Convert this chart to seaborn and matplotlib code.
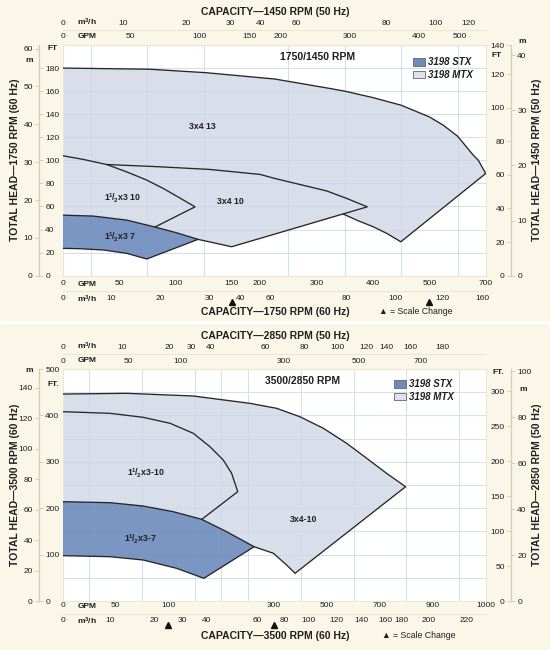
import numpy as np
import pandas as pd
import matplotlib
matplotlib.use("Agg")
import matplotlib.pyplot as plt
import matplotlib.transforms as mtransforms
import seaborn as sns
from matplotlib.patches import Patch
from matplotlib.lines import Line2D
from matplotlib.ticker import FixedLocator

# ------------------------------------------------------------------
# DATA  (upper chart: 1750 RPM capacity in GPM, head in FT)
# ------------------------------------------------------------------
T13_TOP_GPM = [0, 77, 127, 226, 324, 350, 400, 450, 500, 550, 600, 656, 674, 700]
T13_TOP_FT = [180, 179, 176, 170.5, 162.3, 160, 154.4, 147.8, 137.7, 130.4, 121, 104.5, 100, 88.6]
T13_LOW_GPM = [449.5, 424.5, 400.6, 374, 347.5]
T13_LOW_FT = [29.4, 36.7, 42.4, 47.6, 53.4]
T10_TOP_GPM = [39, 86.3, 130.6, 200, 226, 318, 353.5, 390]
T10_TOP_FT = [96.4, 94.4, 92.1, 87.8, 84.3, 73.5, 67, 59.7]
T10_LOW_GPM = [390, 149.8, 120]
T10_LOW_FT = [59.7, 25.1, 31.5]
T1510_GPM = [0, 18.3, 39, 56.7, 74.5, 89, 101, 117.3, 81.8]
T1510_FT = [104, 100.8, 96.4, 90, 82.9, 75.7, 69, 59.7, 42.2]
T157_TOP_GPM = [0, 27, 56.7, 81.8, 101, 120]
T157_TOP_FT = [52.5, 51.7, 48.2, 42.2, 37.2, 31.5]
T157_LOW_GPM = [120, 74.5, 56.7, 36, 15.3, 0]
T157_LOW_FT = [31.5, 14.5, 19.4, 22.3, 23.4, 23.7]
T_LABELS = ["3x4 13", r"1$^{\mathbf{1}}\!$/$_{\mathbf{2}}$x3 10", "3x4 10",
            r"1$^{\mathbf{1}}\!$/$_{\mathbf{2}}$x3 7"]
T_LABEL_GPM = [124, 53, 149, 50.5]
T_LABEL_FT = [129, 67, 64, 33]
T_SCALE_BREAKS = [0, 150, 500, 700]
T_BREAK_MARKS = [150, 500]

# lower chart: 3500 RPM
B10_TOP_GPM = [0, 60.5, 147, 254, 309, 397, 486, 574, 650, 725, 797]
B10_TOP_FT = [446, 447.6, 441.8, 426, 415.3, 397.2, 372.2, 339.9, 307.5, 275.2, 246.3]
B10_LOW_GPM = [797, 379, 347, 298.5, 262]
B10_LOW_FT = [246.3, 59.7, 77.6, 102.8, 117]
B1510_GPM = [0, 44.7, 76, 103, 147, 178.5, 203.6, 219.5, 231, 163]
B1510_FT = [408, 404.5, 395.9, 383, 361.4, 332.5, 303.9, 275.2, 235.6, 176]
B157_TOP_GPM = [0, 44.7, 76, 109, 163, 210, 262]
B157_TOP_FT = [214, 211.9, 204.7, 192.5, 176, 149.4, 117]
B157_LOW_GPM = [262, 167, 115.5, 76, 44.7, 0]
B157_LOW_FT = [117, 48.9, 70.4, 88.4, 95.5, 97.7]
B_LABELS = [r"1$^{\mathbf{1}}\!$/$_{\mathbf{2}}$x3-10", r"1$^{\mathbf{1}}\!$/$_{\mathbf{2}}$x3-7", "3x4-10"]
B_LABEL_GPM = [79, 73, 410]
B_LABEL_FT = [275, 133, 176]
B_SCALE_BREAKS = [0, 100, 300, 900, 1000]
B_BREAK_MARKS = [100, 300]

# tick labels
T_GPM60 = [0, 50, 100, 150, 200, 300, 400, 500, 700]
T_M3H60 = ["0", "10", "20", "30", "40", "60", "80", "100", "120", "160"]
T_GPM50 = ["0", "50", "100", "150", "200", "300", "400", "500"]
T_M3H50 = ["0", "10", "20", "30", "40", "60", "80", "100", "120"]
B_GPM60 = [0, 50, 100, 300, 500, 700, 900, 1000]
B_M3H60 = ["0", "10", "20", "30", "40", "60", "80", "100", "120", "140", "160", "180", "200", "220"]
B_GPM50 = ["0", "50", "100", "300", "500", "700"]
B_M3H50 = ["0", "10", "20", "30", "40", "60", "80", "100", "120", "140", "160", "180"]

# ------------------------------------------------------------------
# layout (pixel positions of tick labels)
# ------------------------------------------------------------------
T_M3H60_X = [63, 111, 160, 209, 241, 270, 346, 395, 442, 482]
T_GPM50_X = [63, 130.5, 199, 249, 281, 350, 419, 460]
T_M3H50_X = [63, 123, 186, 230, 261, 296, 386, 435, 468]
B_M3H60_X = [63, 110.5, 154.4, 182.5, 207, 257, 284, 308, 336, 361, 385, 401, 429, 466.7]
B_GPM50_X = [63, 128.8, 180, 284, 358.6, 421]
B_M3H50_X = [63, 121.8, 169.5, 191, 210.5, 265.6, 304, 337.5, 366.7, 386, 410.5, 442]

BG = "#FAF7E8"
LIGHT = "#CFD7E7"
DARK = "#6E8BBD"
LINE = "#262626"
GRID = "#D6E0EA"
SPINE = "#D3CDB6"
ROWLINE = "#ECE7D4"
TXT = "#1e1e1e"

sns.set_theme(style="white")
plt.rcParams["font.family"] = ["Liberation Sans", "DejaVu Sans"]
plt.rcParams["mathtext.fontset"] = "custom"
plt.rcParams["mathtext.rm"] = "Liberation Sans:bold"
plt.rcParams["mathtext.bf"] = "Liberation Sans:bold"
plt.rcParams["mathtext.it"] = "Liberation Sans:italic"

W, H = 550, 650
fig = plt.figure(figsize=(5.5, 6.5), dpi=100, facecolor=BG)
PX2PT = 72 / 100
XL, XR = 62.7, 485.7


def fx(x):
    return x / W


def fy(y):
    return 1 - y / H


def make_scale(brk_gpm, brk_u):
    bg = np.asarray(brk_gpm, float)
    bu = np.asarray(brk_u, float)

    def fwd(g):
        return np.interp(np.asarray(g, float), bg, bu)

    def inv(u):
        return np.interp(np.asarray(u, float), bu, bg)
    return fwd, inv


def ftext(x, y, s, size=6, weight="normal", ha="center", va="center", **kw):
    fig.text(fx(x), fy(y), s, size=size, weight=weight, ha=ha, va=va, color=TXT, **kw)


def xrow(ax, fwd, inv, lims, side, spine_y, top, bot, pos, labels, pad_px, spine_vis=True):
    tw = ax.twiny()
    tw.set_xscale("function", functions=(fwd, inv))
    tw.set_xlim(lims)
    for s in tw.spines.values():
        s.set_visible(False)
    frac = (bot - spine_y) / (bot - top)
    tw.spines[side].set_visible(spine_vis)
    tw.spines[side].set_position(("axes", frac))
    tw.spines[side].set_color(ROWLINE)
    tw.spines[side].set_linewidth(0.8)
    tw.xaxis.set_ticks_position(side)
    tw.set_xticks(pos)
    tw.set_xticklabels(labels)
    tw.xaxis.set_minor_locator(FixedLocator([]))
    tw.tick_params(axis="x", which="both", length=0, pad=pad_px * PX2PT, labelsize=6, labelcolor=TXT)
    return tw


def yax(ax, ymax, side, x_px, ticks, labels):
    tw = ax.twinx()
    tw.set_ylim(0, ymax)
    for s in tw.spines.values():
        s.set_visible(False)
    frac = (x_px - XL) / (XR - XL)
    tw.yaxis.set_ticks_position(side)
    tw.spines[side].set_visible(True)
    tw.spines[side].set_position(("axes", frac))
    tw.spines[side].set_color(SPINE)
    tw.spines[side].set_linewidth(0.8)
    tw.set_yticks(ticks)
    tw.set_yticklabels(labels)
    tw.tick_params(axis="y", length=3, width=0.7, color=SPINE, pad=1.5, labelsize=6, labelcolor=TXT)
    return tw


def panel(top, bot, brk, units, ymax, ystep, curves, light_poly, dark_poly, labels, lab_x, lab_y,
          gpm60, m3h60, m3h60_x, gpm50, gpm50_x, m3h50, m3h50_x, rows, marks, legend_xy):
    ax = fig.add_axes([fx(XL), fy(bot), (XR - XL) / W, (bot - top) / H])
    ax.set_facecolor("white")
    fwd, inv = make_scale(brk, units)
    unit_px = (XR - XL) / units[-1]
    ax.set_xscale("function", functions=(fwd, inv))

    # fills (semi-opaque so the grid shows faintly through, as in the reference)
    ax.fill(light_poly[0], light_poly[1], facecolor=LIGHT, edgecolor="none", alpha=0.8, zorder=2)
    ax.fill(dark_poly[0], dark_poly[1], facecolor=DARK, edgecolor="none", alpha=0.9, zorder=3)
    # outlines through seaborn
    for cx, cy in curves:
        sns.lineplot(x=cx, y=cy, sort=False, estimator=None, color=LINE, lw=0.95, ax=ax, zorder=4)
    for s, x, y in zip(labels, lab_x, lab_y):
        ax.text(x, y, s, ha="center", va="center", size=6.3, weight="bold", color=TXT, zorder=5)

    ax.set_xlim(brk[0], brk[-1])
    ax.set_ylim(0, ymax)
    ax.set_xlabel("")
    ax.set_ylabel("")
    # grid
    ax.xaxis.set_minor_locator(FixedLocator(inv(np.arange(1, units[-1]))))
    ax.set_yticks(np.arange(ystep, ymax, ystep))
    ax.grid(False)
    ax.xaxis.grid(True, which="minor", color=GRID, lw=0.8)
    ax.yaxis.grid(True, which="major", color=GRID, lw=0.8)
    ax.set_axisbelow(True)
    ax.tick_params(axis="y", length=0, labelleft=False, labelright=False)
    for s in ax.spines.values():
        s.set_color(ROWLINE)
        s.set_linewidth(0.8)

    # bottom GPM row (main axis)
    ax.set_xticks(gpm60)
    ax.set_xticklabels([str(v) for v in gpm60])
    ax.tick_params(axis="x", which="both", length=0, pad=rows["gpm60_pad"] * PX2PT, labelsize=6,
                   labelcolor=TXT)
    lims = (brk[0], brk[-1])
    pos = lambda xs: inv((np.asarray(xs) - XL) / unit_px)
    xrow(ax, fwd, inv, lims, "bottom", rows["m3h60_spine"], top, bot, pos(m3h60_x), m3h60,
         rows["m3h60_pad"])
    xrow(ax, fwd, inv, lims, "top", top, top, bot, pos(gpm50_x), gpm50, rows["gpm50_pad"])
    xrow(ax, fwd, inv, lims, "top", rows["m3h50_spine"], top, bot, pos(m3h50_x), m3h50,
         rows["m3h50_pad"])

    # scale change markers
    tr = mtransforms.blended_transform_factory(ax.transData, fig.transFigure)
    ax.plot(marks, [fy(rows["mark_y"])] * len(marks), ls="none", marker="^", ms=4.5, color="#111",
            transform=tr, clip_on=False)

    # words in rows
    ftext(87, rows["gpm60_y"], "GPM", weight="bold")
    ftext(87, rows["m3h60_y"], r"m$^{\mathbf{3}}$/h", weight="bold")
    ftext(87, rows["gpm50_y"], "GPM", weight="bold")
    ftext(87, rows["m3h50_y"], r"m$^{\mathbf{3}}$/h", weight="bold")

    # legend
    handles = [Patch(facecolor=DARK, edgecolor="#666", lw=0.6, label="3198 STX"),
               Patch(facecolor="#DCE1EE", edgecolor="#666", lw=0.6, label="3198 MTX")]
    leg = ax.legend(handles=handles, loc="upper left", bbox_to_anchor=(fx(legend_xy[0]), fy(legend_xy[1])),
                    bbox_transform=fig.transFigure, frameon=False,
                    prop={"weight": "bold", "style": "italic", "size": 7}, handlelength=1.25,
                    handleheight=0.85, handletextpad=0.25, labelspacing=0.3, borderpad=0, borderaxespad=0)
    for t in leg.get_texts():
        t.set_color(TXT)
    leg.set_zorder(10)
    return ax


# ---------------- upper panel ----------------
T_TOP, T_BOT = 45, 275.7
t_light = (T13_TOP_GPM + T13_LOW_GPM + T10_LOW_GPM[1:] + T157_TOP_GPM[::-1][1:],
           T13_TOP_FT + T13_LOW_FT + T10_LOW_FT[1:] + T157_TOP_FT[::-1][1:])
t_dark = (T157_TOP_GPM + T157_LOW_GPM[1:], T157_TOP_FT + T157_LOW_FT[1:])
t_curves = [
    (T13_TOP_GPM + T13_LOW_GPM, T13_TOP_FT + T13_LOW_FT),
    (T10_TOP_GPM + T10_LOW_GPM[1:], T10_TOP_FT + T10_LOW_FT[1:]),
    (T1510_GPM, T1510_FT),
    (T157_TOP_GPM + T157_LOW_GPM[1:], T157_TOP_FT + T157_LOW_FT[1:]),
]
t_rows = dict(gpm60_pad=4.5, gpm60_y=284.7, m3h60_spine=291, m3h60_pad=3.8, m3h60_y=299.3,
              gpm50_pad=4.5, gpm50_y=36, m3h50_spine=30, m3h50_pad=3.2, m3h50_y=22.3, mark_y=302)
ax1 = panel(T_TOP, T_BOT, T_SCALE_BREAKS, [0, 6, 13, 15], 200, 20, t_curves, t_light, t_dark,
            T_LABELS, T_LABEL_GPM, T_LABEL_FT, T_GPM60, T_M3H60, T_M3H60_X, T_GPM50, T_GPM50_X,
            T_M3H50, T_M3H50_X, t_rows, T_BREAK_MARKS, (413, 57))
r1 = (1450 / 1750) ** 2
yax(ax1, 200 / 3.281, "left", 39, np.arange(0, 61, 10), [str(v) for v in range(0, 61, 10)])
yax(ax1, 200, "right", 39, np.arange(0, 181, 20), [str(v) for v in range(0, 181, 20)])
yax(ax1, 200 * r1, "left", 511, list(np.arange(0, 121, 20)) + [200 * r1],
    [str(v) for v in range(0, 121, 20)] + ["140"])
yax(ax1, 200 * r1 / 3.281, "right", 511, np.arange(0, 41, 10), [str(v) for v in range(0, 41, 10)])

ftext(275, 11.7, "CAPACITY\u20141450 RPM (50 Hz)", size=7.5, weight="bold")
ftext(275, 311.7, "CAPACITY\u20141750 RPM (60 Hz)", size=7.5, weight="bold")
ftext(379, 312, "\u25B2 = Scale Change", size=6.3, ha="left")
ftext(317.5, 56.7, "1750/1450 RPM", size=7.5, weight="bold")
ftext(15, 160, "TOTAL HEAD\u20141750 RPM (60 Hz)", size=7.5, weight="bold", rotation=90)
ftext(537, 160, "TOTAL HEAD\u20141450 RPM (50 Hz)", size=7.5, weight="bold", rotation=90)
ftext(53, 48.3, "FT", weight="bold")
ftext(29, 60, "m", weight="bold")
ftext(497, 55.7, "FT", weight="bold")
ftext(522, 41.7, "m", weight="bold")

# separator between the two charts
fig.add_artist(Line2D([0, 1], [fy(322), fy(322)], color="white", lw=2, transform=fig.transFigure))

# ---------------- lower panel ----------------
B_TOP, B_BOT = 369, 601
b_light = (B10_TOP_GPM + B10_LOW_GPM[1:] + B157_TOP_GPM[::-1][1:],
           B10_TOP_FT + B10_LOW_FT[1:] + B157_TOP_FT[::-1][1:])
b_dark = (B157_TOP_GPM + B157_LOW_GPM[1:], B157_TOP_FT + B157_LOW_FT[1:])
b_curves = [
    (B10_TOP_GPM + B10_LOW_GPM[1:], B10_TOP_FT + B10_LOW_FT[1:]),
    (B1510_GPM, B1510_FT),
    (B157_TOP_GPM + B157_LOW_GPM[1:], B157_TOP_FT + B157_LOW_FT[1:]),
]
b_rows = dict(gpm60_pad=1.0, gpm60_y=606, m3h60_spine=614, m3h60_pad=3.2, m3h60_y=621.7,
              gpm50_pad=3.8, gpm50_y=360.7, m3h50_spine=354, m3h50_pad=2.8, m3h50_y=346.7, mark_y=625)
ax2 = panel(B_TOP, B_BOT, B_SCALE_BREAKS, [0, 4, 8, 14, 16], 500, 50, b_curves, b_light, b_dark,
            B_LABELS, B_LABEL_GPM, B_LABEL_FT, B_GPM60, B_M3H60, B_M3H60_X, B_GPM50, B_GPM50_X,
            B_M3H50, B_M3H50_X, b_rows, B_BREAK_MARKS, (394, 379))
r2 = (2850 / 3500) ** 2
yax(ax2, 500 / 3.281, "left", 39, np.arange(0, 141, 20), [str(v) for v in range(0, 141, 20)])
yax(ax2, 500, "right", 39, np.arange(0, 501, 100), [str(v) for v in range(0, 501, 100)])
yax(ax2, 500 * r2, "left", 511, np.arange(0, 301, 50), [str(v) for v in range(0, 301, 50)])
yax(ax2, 500 * r2 / 3.281, "right", 511, np.arange(0, 101, 20), [str(v) for v in range(0, 101, 20)])

ftext(275, 336, "CAPACITY\u20142850 RPM (50 Hz)", size=7.5, weight="bold")
ftext(275, 635.7, "CAPACITY\u20143500 RPM (60 Hz)", size=7.5, weight="bold")
ftext(382, 636, "\u25B2 = Scale Change", size=6.3, ha="left")
ftext(303, 381, "3500/2850 RPM", size=7.5, weight="bold")
ftext(15, 485, "TOTAL HEAD\u20143500 RPM (60 Hz)", size=7.5, weight="bold", rotation=90)
ftext(537, 485, "TOTAL HEAD\u20142850 RPM (50 Hz)", size=7.5, weight="bold", rotation=90)
ftext(29, 370.7, "m", weight="bold")
ftext(53, 385, "FT.", weight="bold")
ftext(498, 372.3, "FT.", weight="bold")
ftext(523, 389.3, "m", weight="bold")

fig.savefig("out.png", dpi=100, facecolor=BG)
